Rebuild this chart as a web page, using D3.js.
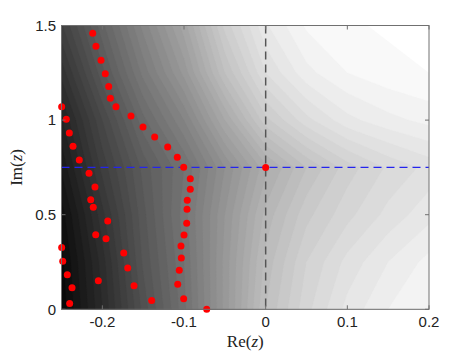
<!DOCTYPE html>
<html>
<head>
<meta charset="utf-8">
<script src="https://cdn.jsdelivr.net/npm/d3@7"></script>
<style>
  html, body { margin: 0; padding: 0; background: #fff; }
  svg { display: block; }
</style>
</head>
<body>
<svg id="chart" width="474" height="355"></svg>
<script>
// ---- data ----
const xTicks = [-0.2, -0.1, 0, 0.1, 0.2];
const yTicks = [0, 0.5, 1, 1.5];
const xTickLabels = ["-0.2", "-0.1", "0", "0.1", "0.2"];
const yTickLabels = ["0", "0.5", "1", "1.5"];

// background field grid (gray level 0..255), rows from Im=0 upward
const fieldX = [-0.25, -0.2, -0.15, -0.1, -0.05, 0, 0.05, 0.1, 0.15, 0.2];
const fieldY = [0, 0.25, 0.5, 0.75, 1.0, 1.25, 1.5];
const shadeRow0   = [8, 42, 80, 112, 152, 192, 214, 230, 240, 246];
const shadeRow025 = [10, 45, 85, 114, 152, 188, 210, 224, 234, 242];
const shadeRow05  = [15, 52, 88, 117, 150, 182, 202, 214, 224, 232];
const shadeRow075 = [25, 62, 92, 114, 144, 172, 192, 207, 217, 224];
const shadeRow1   = [35, 72, 106, 132, 168, 202, 220, 232, 238, 242];
const shadeRow125 = [50, 88, 122, 152, 192, 222, 238, 246, 250, 252];
const shadeRow15  = [65, 100, 134, 165, 206, 233, 247, 251, 253, 254];

// eigenvalues (red dots)
const eigRe = [
  -0.2498, -0.2441, -0.2404, -0.2359, -0.2282, -0.2163, -0.2090, -0.2142, -0.2111,
  -0.1934, -0.2081, -0.1955, -0.2498, -0.1738, -0.2485, -0.1689, -0.2429, -0.2049,
  -0.1612, -0.2371, -0.1396, -0.2400,
  -0.2118, -0.2078, -0.2016, -0.1964, -0.1922, -0.1902, -0.1833, -0.1649, -0.1502,
  -0.1359, -0.1200, -0.1082, -0.1004, -0.0923, -0.0923, -0.0960, -0.0963, -0.0967,
  -0.1000, -0.1037, -0.1033, -0.1058, -0.1077, -0.1004, -0.0722, 0.0
];
const eigIm = [
  1.071, 1.004, 0.932, 0.862, 0.789, 0.719, 0.646, 0.579, 0.539,
  0.467, 0.394, 0.373, 0.326, 0.298, 0.254, 0.218, 0.183, 0.151,
  0.125, 0.114, 0.046, 0.030,
  1.459, 1.390, 1.316, 1.245, 1.177, 1.115, 1.071, 1.022, 0.964,
  0.911, 0.858, 0.803, 0.751, 0.690, 0.634, 0.576, 0.529, 0.455,
  0.393, 0.335, 0.271, 0.206, 0.132, 0.056, 0.0, 0.75
];

const refRe = 0;
const refIm = 0.75;

// ---- layout ----
const svg = d3.select("#chart");
const pL = 61.5, pR = 429, pT = 25.5, pB = 309.3;
const x = d3.scaleLinear().domain([-0.25, 0.2]).range([pL, pR]);
const y = d3.scaleLinear().domain([0, 1.5]).range([pB, pT]);

svg.append("defs").append("clipPath").attr("id", "plotclip")
  .append("rect").attr("x", pL).attr("y", pT)
  .attr("width", pR - pL).attr("height", pB - pT);

const plot = svg.append("g").attr("clip-path", "url(#plotclip)");

// ---- filled contours ----
const rows = [shadeRow0, shadeRow025, shadeRow05, shadeRow075, shadeRow1, shadeRow125, shadeRow15];
const nx = fieldX.length, ny = fieldY.length;
const values = [];
rows.forEach(r => r.forEach(v => values.push(v)));
const thresholds = d3.range(0, 256, 6);
const contours = d3.contours().size([nx, ny]).thresholds(thresholds)(values);

const gx = d3.scaleLinear().domain([0.5, nx - 0.5]).range([x(fieldX[0]), x(fieldX[nx - 1])]);
const gy = d3.scaleLinear().domain([0.5, ny - 0.5]).range([y(fieldY[0]), y(fieldY[ny - 1])]);
const proj = d3.geoTransform({
  point: function(px, py) { this.stream.point(gx(px), gy(py)); }
});
const path = d3.geoPath(proj);

plot.append("rect").attr("x", pL).attr("y", pT)
  .attr("width", pR - pL).attr("height", pB - pT).attr("fill", "#000");
plot.selectAll("path.band").data(contours).enter().append("path")
  .attr("class", "band")
  .attr("d", path)
  .attr("fill", d => { const v = Math.min(255, d.value + 3); return d3.rgb(v, v, v); })
  .attr("stroke", d => { const v = Math.min(255, d.value + 3); return d3.rgb(v, v, v); })
  .attr("stroke-width", 0.3);

// ---- dashed reference lines ----
plot.append("line")
  .attr("x1", x(refRe)).attr("x2", x(refRe))
  .attr("y1", pT).attr("y2", pB)
  .attr("stroke", "#555").attr("stroke-width", 1.5)
  .attr("stroke-dasharray", "8,5");
plot.append("line")
  .attr("x1", pL).attr("x2", pR)
  .attr("y1", y(refIm)).attr("y2", y(refIm))
  .attr("stroke", "#2424ee").attr("stroke-width", 1.3)
  .attr("stroke-dasharray", "8,5");

// ---- dots ----
svg.append("g").selectAll("circle").data(eigRe.map((r, i) => [r, eigIm[i]]))
  .enter().append("circle")
  .attr("cx", d => x(d[0])).attr("cy", d => y(d[1]))
  .attr("r", 3.5).attr("fill", "#ff0000");

// ---- axes ----
const axCol = "#707070";
const tickLen = 4;
const axG = svg.append("g");
axG.append("rect").attr("x", pL).attr("y", pT)
  .attr("width", pR - pL).attr("height", pB - pT)
  .attr("fill", "none").attr("stroke", axCol).attr("stroke-width", 1);

xTicks.forEach((t, i) => {
  axG.append("line").attr("x1", x(t)).attr("x2", x(t)).attr("y1", pB).attr("y2", pB - tickLen)
    .attr("stroke", axCol);
  axG.append("line").attr("x1", x(t)).attr("x2", x(t)).attr("y1", pT).attr("y2", pT + tickLen)
    .attr("stroke", axCol);
  axG.append("text").attr("x", x(t)).attr("y", 327)
    .attr("text-anchor", "middle")
    .attr("font-family", "Liberation Sans, Arial, sans-serif").attr("font-size", 15)
    .attr("fill", "#222").text(xTickLabels[i]);
});
yTicks.forEach((t, i) => {
  axG.append("line").attr("x1", pL).attr("x2", pL + tickLen).attr("y1", y(t)).attr("y2", y(t))
    .attr("stroke", axCol);
  axG.append("line").attr("x1", pR).attr("x2", pR - tickLen).attr("y1", y(t)).attr("y2", y(t))
    .attr("stroke", axCol);
  axG.append("text").attr("x", 56).attr("y", y(t) + 5.3)
    .attr("text-anchor", "end")
    .attr("font-family", "Liberation Sans, Arial, sans-serif").attr("font-size", 15)
    .attr("fill", "#222").text(yTickLabels[i]);
});

// axis titles
const xt = svg.append("text").attr("x", (pL + pR) / 2).attr("y", 347)
  .attr("text-anchor", "middle")
  .attr("font-family", "Liberation Serif, Times New Roman, serif").attr("font-size", 17)
  .attr("fill", "#222");
xt.append("tspan").text("Re(");
xt.append("tspan").attr("font-style", "italic").text("z");
xt.append("tspan").text(")");

const yt = svg.append("text")
  .attr("transform", `translate(22, ${(pT + pB) / 2}) rotate(-90)`)
  .attr("text-anchor", "middle")
  .attr("font-family", "Liberation Serif, Times New Roman, serif").attr("font-size", 17)
  .attr("fill", "#222");
yt.append("tspan").text("Im(");
yt.append("tspan").attr("font-style", "italic").text("z");
yt.append("tspan").text(")");
</script>
</body>
</html>
